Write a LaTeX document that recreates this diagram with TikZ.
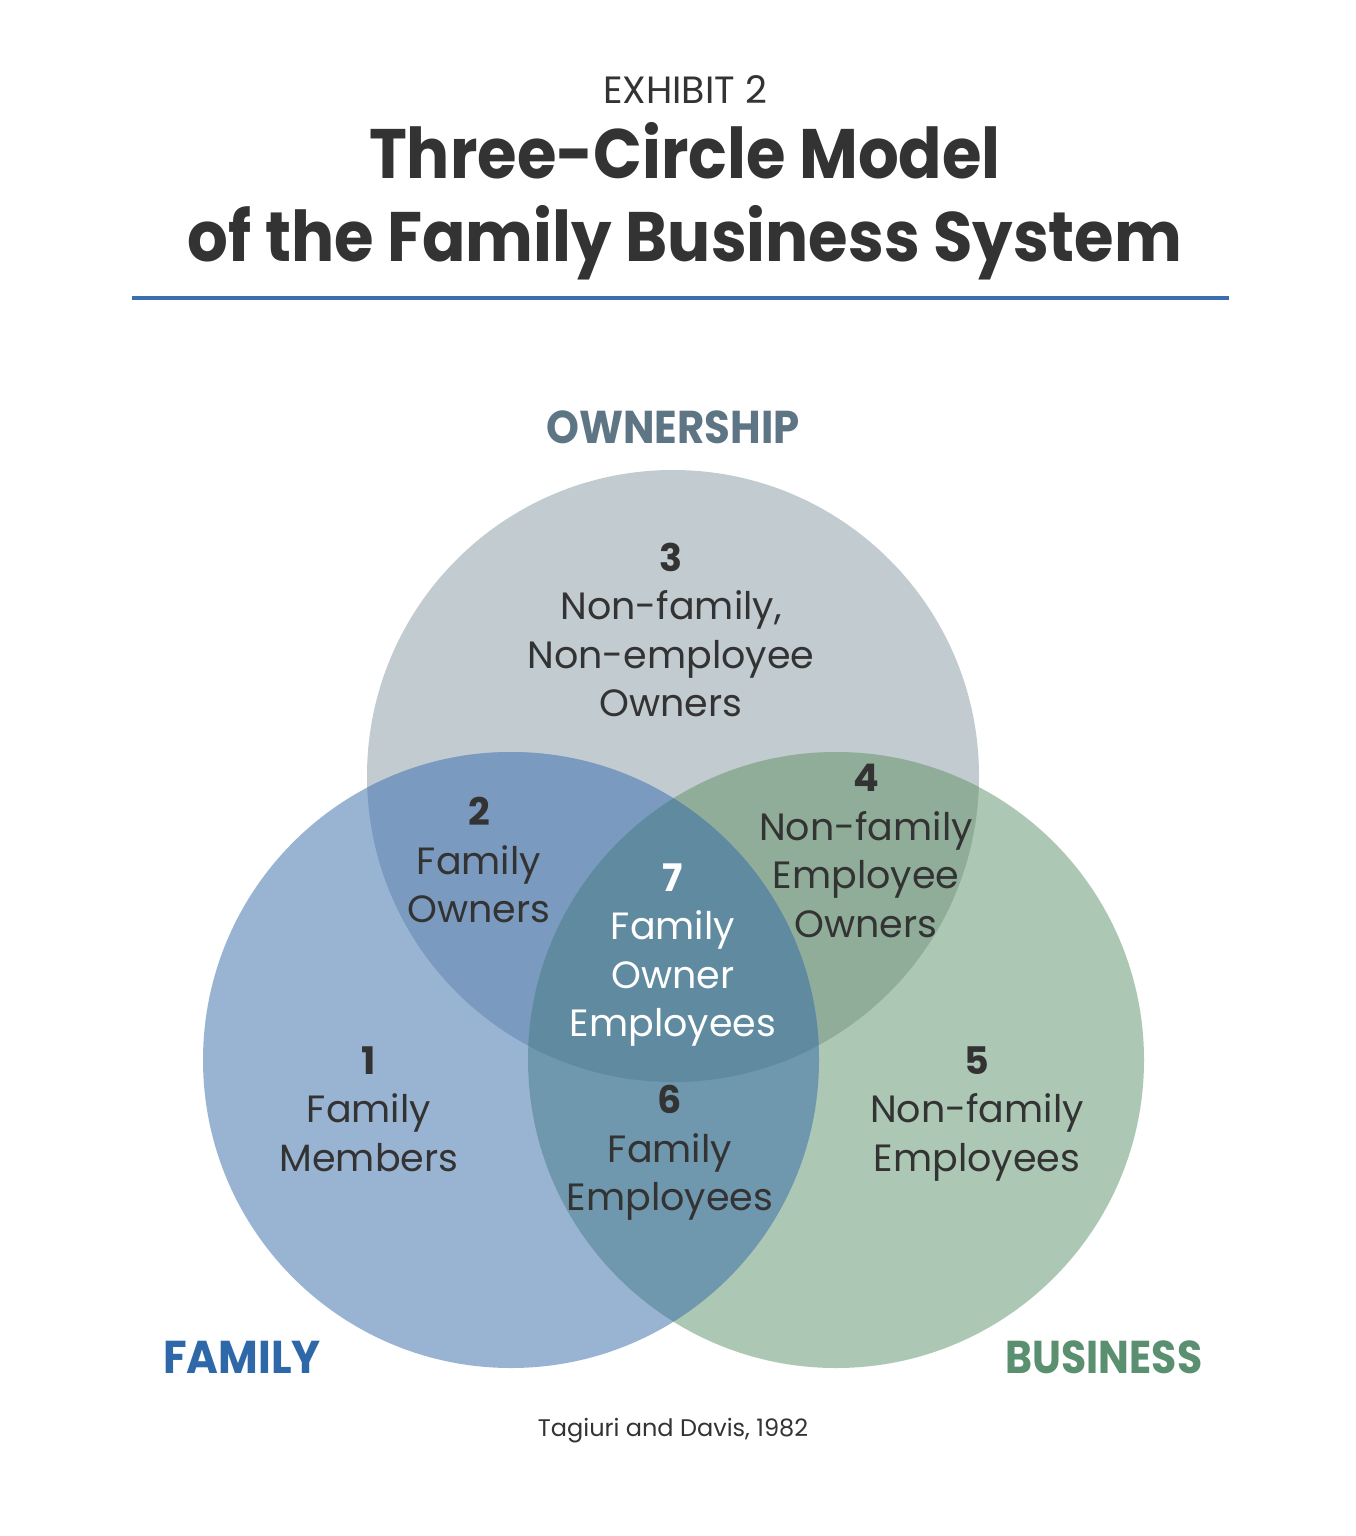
\documentclass[tikz,border=0pt]{standalone}
\usepackage{fontspec}
\usepackage{graphicx}
\setmainfont{Poppins}
\definecolor{cO}{HTML}{C2CBD0}
\definecolor{cF}{HTML}{99B4D3}
\definecolor{cB}{HTML}{ACC8B5}
\definecolor{cFO}{HTML}{7A9BBF}
\definecolor{cOB}{HTML}{8FAD99}
\definecolor{cFB}{HTML}{6F97AD}
\definecolor{cC}{HTML}{5F8AA0}
\definecolor{txt}{HTML}{333333}
\definecolor{tOwn}{HTML}{5D7584}
\definecolor{tFam}{HTML}{2E68A8}
\definecolor{tBus}{HTML}{5A9070}
\definecolor{rule}{HTML}{3A6EAE}
\tikzset{
  region/.style={align=center, text=txt, font=\fontsize{38}{48.5}\selectfont, inner sep=0pt},
  setlabel/.style={font=\fontsize{46}{50}\selectfont\bfseries, inner sep=0pt},
}
\newcommand{\nb}[1]{{\bfseries #1}}
\begin{document}
\begin{tikzpicture}[x=1pt,y=-1pt]
\useasboundingbox (0,0) rectangle (1355,1536);
\fill[white] (0,0) rectangle (1355,1536);
% title
\node[text=txt, font=\fontsize{38}{40}\selectfont, inner sep=0pt] (exh) at (685,90) {EXHIBIT 2};
\node[text=txt, font=\fontsize{70}{83}\selectfont\bfseries, align=center, inner sep=0pt] (title) at (685,201) {\scalebox{0.915}[1]{Three-Circle Model}\\\scalebox{0.915}[1]{of the Family Business System}};
\coordinate (rl) at (132,298);
\coordinate (rr) at (1229,298);
\draw[rule, line width=4pt] (rl) -- (rr);
% circles
\coordinate (cO) at (673,776);
\coordinate (cF) at (511,1060);
\coordinate (cB) at (836,1060);
\fill[cO] (cO) circle[radius=306pt];
\fill[cF] (cF) circle[radius=308pt];
\fill[cB] (cB) circle[radius=308pt];
\begin{scope}
  \clip (cO) circle[radius=306pt];
  \fill[cOB] (cB) circle[radius=308pt];
\end{scope}
\begin{scope}
  \clip (cF) circle[radius=308pt];
  \fill[cFO] (cO) circle[radius=306pt];
  \fill[cFB] (cB) circle[radius=308pt];
  \clip (cO) circle[radius=306pt];
  \fill[cC] (cB) circle[radius=308pt];
\end{scope}
% set labels
\node[setlabel, text=tOwn] (own) at (673,427) {\scalebox{0.91}[1]{OWNERSHIP}};
\node[setlabel, text=tFam] (fam) at (242,1357) {\scalebox{0.94}[1]{FAMILY}};
\node[setlabel, text=tBus] (bus) at (1104,1357) {\scalebox{0.89}[1]{BUSINESS}};
% regions
\node[region] (r3) at (671,630) {\nb{3}\\Non-family,\\Non-employee\\Owners};
\node[region] (r2) at (479,860) {\nb{2}\\Family\\Owners};
\node[region] (r4) at (866,851) {\nb{4}\\Non-family\\Employee\\Owners};
\node[region, text=white] (r7) at (673,955) {\nb{7}\\Family\\Owner\\Employees};
\node[region] (r1) at (369,1109) {\nb{1}\\Family\\Members};
\node[region] (r6) at (670,1153) {\nb{6}\\Family\\Employees};
\node[region] (r5) at (977,1114) {\nb{5}\\Non-family\\Employees};
% caption
\node[text=txt, font=\fontsize{24}{28}\selectfont, inner sep=0pt] (cap) at (673,1431) {Tagiuri and Davis, 1982};
\end{tikzpicture}
\end{document}
